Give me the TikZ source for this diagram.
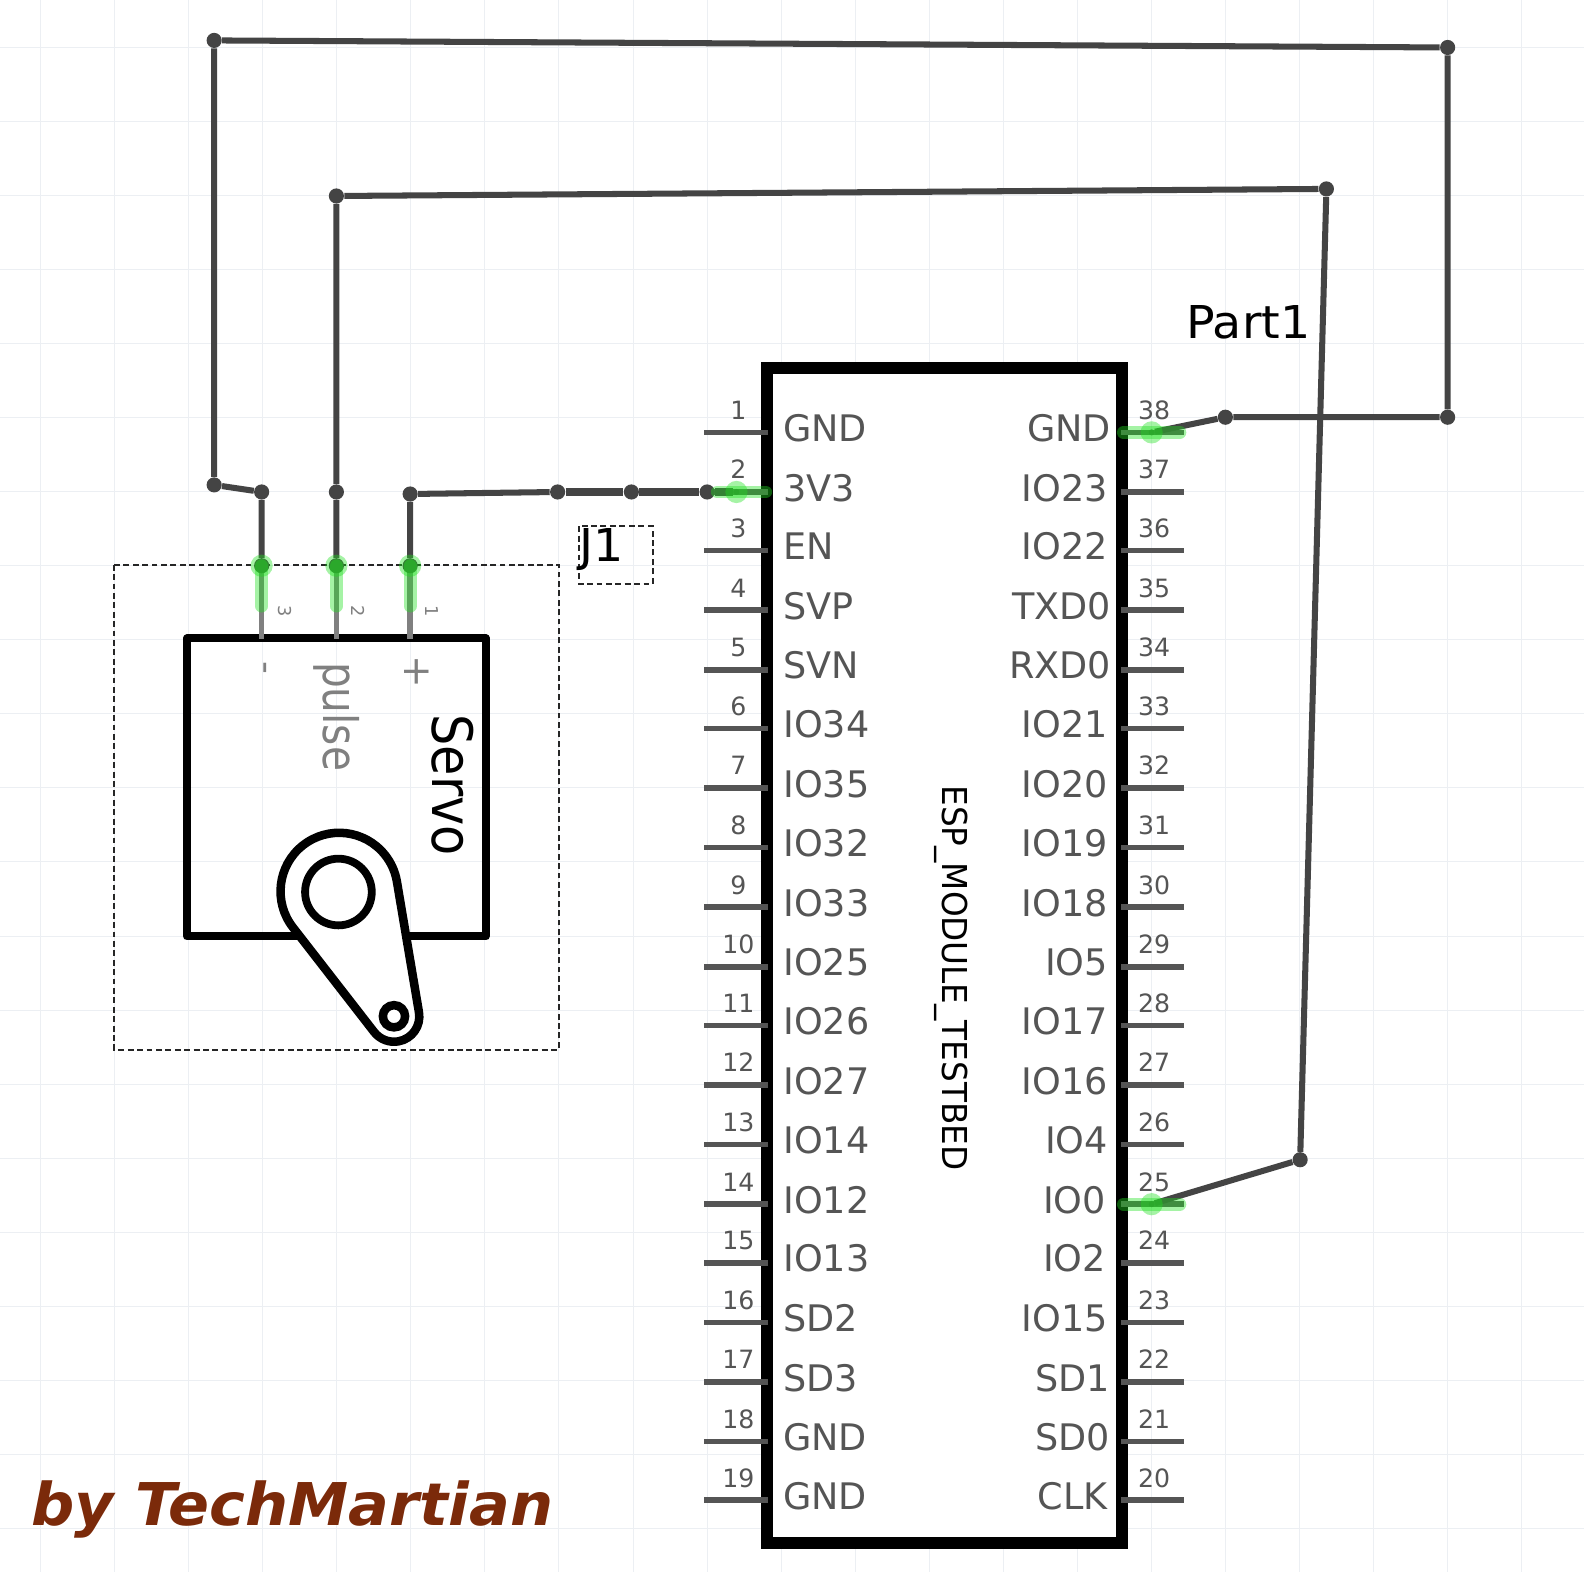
\documentclass[tikz,border=0pt]{standalone}
\usepackage{fontspec}
\setmainfont{DejaVu Sans}
\usepackage{tikz}
\definecolor{wirecolor}{HTML}{444444}
\definecolor{pincolor}{HTML}{555555}
\definecolor{servogray}{HTML}{808080}
\definecolor{gridcolor}{HTML}{ECEFF3}
\definecolor{glowgreen}{RGB}{30,225,30}
\definecolor{signcolor}{HTML}{7B2A0A}
\tikzset{
	wire/.style={line width=3.4pt, color=wirecolor, line join=round},
	fatwire/.style={line width=4.2pt, color=wirecolor},
	dot/.style={circle, fill=wirecolor, inner sep=0pt, minimum size=0.3cm},
	tinydot/.style={circle, fill=wirecolor, inner sep=0pt, minimum size=0.12cm},
	glow/.style={draw=none, fill=glowgreen, opacity=0.4},
	glowstrip/.style={line width=7.2pt, color=glowgreen, opacity=0.4, line cap=round},
	pinline/.style={line width=3.2pt, color=pincolor},
	pinnum/.style={color=pincolor, anchor=base, inner sep=0pt, font=\fontsize{14.2}{16}\selectfont},
	pinname/.style={color=pincolor, inner sep=0pt, font=\fontsize{20.6}{24}\selectfont},
	partname/.style={color=black, inner sep=0pt, xscale=1.05, font=\fontsize{25.5}{28}\selectfont},
	servoline/.style={line width=3.2pt, color=servogray},
	dashbox/.style={line width=1.1pt, color=black!85, dash pattern=on 3.3pt off 2pt},
}
\def\leftpin(#1:#2:#3){\draw[pinline] (697, #2) -- (760, #2);
	\node[pinnum] (num#1) at (731, #2-13) {#1};
	\node[pinname, anchor=base west] (name#1) at (775, #2+9) {#3};}
\def\rightpin(#1:#2:#3:#4){\draw[pinline] (1110, #2) -- (1172, #2);
	\node[pinnum] (num#1) at (1142.5, #2-13) {#1};
	\node[pinname, anchor=base east] (name#1) at (#4, #2+9) {#3};}
\begin{document}
\begin{tikzpicture}[x=0.02cm, y=-0.02cm]
		%%%%% SHEET %%%%%
		\useasboundingbox (0, 0) rectangle (1568, 1556);
		\fill[white] (0, 0) rectangle (1568, 1556);
		\draw[line width=0.5pt, color=gridcolor, step=1.46667cm, shift={(40, 46.67)}] (-40, 1509.33) grid (1528, -46.67);
		
		%%%%% ESP MODULE %%%%%
		\draw[line width=6.8pt, fill=white] (759, 364) rectangle (1111, 1527);
		
		\leftpin(1:428:GND)
		\leftpin(2:487:3V3)
		\leftpin(3:545:EN)
		\leftpin(4:604:SVP)
		\leftpin(5:663:SVN)
		\leftpin(6:721:IO34)
		\leftpin(7:780:IO35)
		\leftpin(8:839:IO32)
		\leftpin(9:898:IO33)
		\leftpin(10:957:IO25)
		\leftpin(11:1015:IO26)
		\leftpin(12:1074:IO27)
		\leftpin(13:1133:IO14)
		\leftpin(14:1192:IO12)
		\leftpin(15:1250:IO13)
		\leftpin(16:1309:SD2)
		\leftpin(17:1368:SD3)
		\leftpin(18:1427:GND)
		\leftpin(19:1485:GND)
		
		\rightpin(38:428:GND:1100)
		\rightpin(37:487:IO23:1097)
		\rightpin(36:545:IO22:1097)
		\rightpin(35:604:TXD0:1100)
		\rightpin(34:663:RXD0:1100)
		\rightpin(33:721:IO21:1097)
		\rightpin(32:780:IO20:1097)
		\rightpin(31:839:IO19:1097)
		\rightpin(30:898:IO18:1097)
		\rightpin(29:957:IO5:1097)
		\rightpin(28:1015:IO17:1097)
		\rightpin(27:1074:IO16:1097)
		\rightpin(26:1133:IO4:1097)
		\rightpin(25:1192:IO0:1095)
		\rightpin(24:1250:IO2:1095)
		\rightpin(23:1309:IO15:1097)
		\rightpin(22:1368:SD1:1099)
		\rightpin(21:1427:SD0:1099)
		\rightpin(20:1485:CLK:1097)
		
		\node[rotate=-90, yscale=1.05, inner sep=0pt, font=\fontsize{18.4}{20}\selectfont] (espname) at (942, 968) {ESP\_MODULE\_TESTBED};
		\node[partname, anchor=base west] (part) at (1174, 335) {Part1};
		
		%%%%% SERVO %%%%%
		\draw[dashbox] (113, 559) rectangle (553, 1039);
		\draw[dashbox] (573, 521) rectangle (646, 578);
		\node[partname, anchor=base west] (jname) at (573, 556) {J1};
		
		\draw[line width=4.5pt, line join=round] (185, 632) rectangle (481, 927);
		\draw[line width=4.8pt, fill=white] (290.2, 918.3) arc (141.7:350.1:58) -- (414.7, 1001.9) arc (-9.9:141.7:25) -- cycle;
		\draw[line width=4.4pt] (335, 883) circle (33);
		\draw[line width=4.8pt] (390, 1006) circle (11);
		
		\node[rotate=-90, yscale=1.13, anchor=base west, inner sep=0pt, font=\fontsize{27.8}{30}\selectfont] (servo) at (428, 707) {Servo};
		\node[rotate=-90, yscale=1.17, anchor=base west, inner sep=0pt, color=servogray, font=\fontsize{22.9}{26}\selectfont] (pulse) at (320, 655) {pulse};
		\node[rotate=-90, inner sep=0pt, color=servogray, font=\fontsize{22}{24}\selectfont] (plus) at (413, 665) {+};
		\node[rotate=-90, inner sep=0pt, color=servogray, font=\fontsize{20}{24}\selectfont] (minus) at (258, 661) {-};
		\node[rotate=-90, inner sep=0pt, color=servogray, font=\fontsize{10}{12}\selectfont] (num3) at (282, 605) {3};
		\node[rotate=-90, inner sep=0pt, color=servogray, font=\fontsize{10}{12}\selectfont] (num2) at (354, 605) {2};
		\node[rotate=-90, inner sep=0pt, color=servogray, font=\fontsize{10}{12}\selectfont] (num1) at (428, 605) {1};
		
		\draw[servoline] (259, 560) -- (259, 633);
		\draw[servoline] (333, 560) -- (333, 633);
		\draw[servoline] (406, 560) -- (406, 633);
		
		%%%%% WIRES %%%%%
		\node[dot] (gndtopl) at (212, 40) {};
		\node[dot] (gndtopr) at (1433, 47) {};
		\node[dot] (gndbotr) at (1433, 413) {};
		\node[dot] (gndbend) at (1213, 413) {};
		\node[tinydot] (gndpin) at (1140, 428) {};
		\node[dot] (gndbotl) at (212, 480) {};
		\node[dot] (minustop) at (259, 487) {};
		\node[dot] (minuspin) at (259, 560) {};
		
		\node[dot] (sigtopl) at (333, 194) {};
		\node[dot] (sigtopr) at (1313, 187) {};
		\node[dot] (sigbend) at (1287, 1148) {};
		\node[tinydot] (sigpin) at (1140, 1192) {};
		\node[dot] (pulsetop) at (333, 487) {};
		\node[dot] (pulsepin) at (333, 560) {};
		
		\node[dot] (plustop) at (406, 489) {};
		\node[dot] (pluspin) at (406, 560) {};
		\node[dot] (powa) at (552, 487) {};
		\node[dot] (powb) at (625, 487) {};
		\node[dot] (powc) at (700, 487) {};
		\node[tinydot] (powpin) at (729, 487) {};
		
		\draw[wire] (minuspin) -- (minustop) -- (gndbotl) -- (gndtopl) -- (gndtopr) -- (gndbotr) -- (gndbend) -- (gndpin);
		\draw[wire] (pulsepin) -- (pulsetop) -- (sigtopl) -- (sigtopr) -- (sigbend) -- (sigpin);
		\draw[wire] (pluspin) -- (plustop) -- (powa);
		\draw[fatwire] (powa) -- (powb) -- (powc) -- (powpin);
		
		%%%%% GREEN MARKS %%%%%
		\draw[glowstrip] (259, 560) -- (259, 600);
		\draw[glowstrip] (333, 560) -- (333, 600);
		\draw[glowstrip] (406, 560) -- (406, 600);
		\draw[glowstrip] (710, 487) -- (758, 487);
		\draw[glowstrip] (1112, 428) -- (1168, 428);
		\draw[glowstrip] (1112, 1192) -- (1168, 1192);
		\fill[glow] (minuspin) circle (11);
		\fill[glow] (pulsepin) circle (11);
		\fill[glow] (pluspin) circle (11);
		\fill[glow] (powpin) circle (11);
		\fill[glow] (gndpin) circle (11);
		\fill[glow] (sigpin) circle (11);
		
		\node[anchor=base west, xscale=1.026, inner sep=0pt, color=signcolor, font=\fontsize{33.2}{36}\selectfont\bfseries\itshape] (sign) at (31, 1510) {by TechMartian};
	\end{tikzpicture}
\end{document}
